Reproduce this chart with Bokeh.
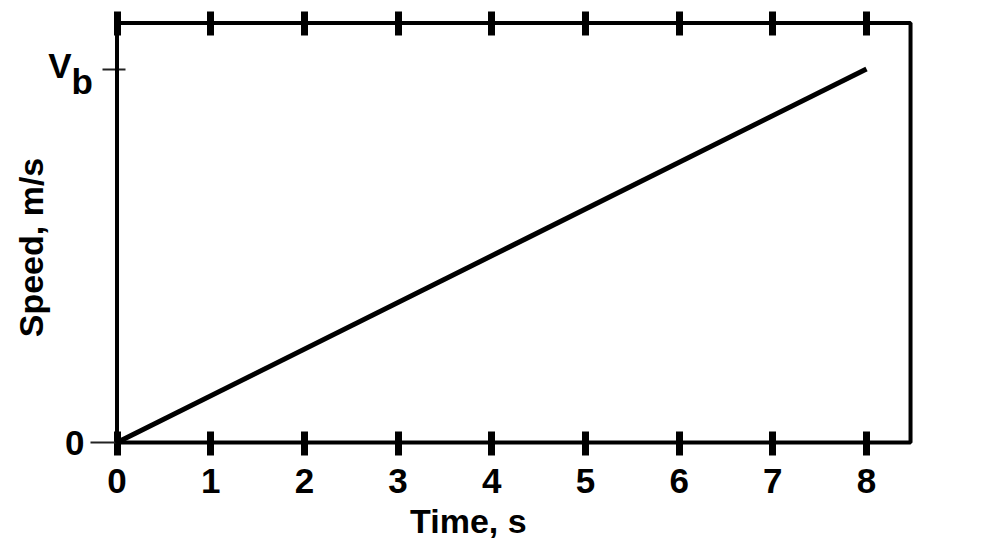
import math
from bokeh.plotting import figure
from bokeh.models import (LinearAxis, FixedTicker, Label, Range1d,
                          CustomLabelingPolicy, BoxAnnotation)
from bokeh.embed import file_html
from bokeh.resources import INLINE

# ---- data ----
time_s = [0, 8]
speed = [0, 1.0]          # speed normalised to V_b
x_ticks = [0, 1, 2, 3, 4, 5, 6, 7, 8]
x_tick_labels = ["0", "1", "2", "3", "4", "5", "6", "7", "8"]
y_ticks = [0, 1.0]
y_tick_labels = ["0", "V"]
y_tick_subscripts = ["", "b"]
x_max = 8.47              # right edge of the plot box (s)
y_max = 1.123             # top edge of the plot box (in V_b)
x_title = "Time, s"
y_title = "Speed, m/s"
x_title_pos = 3.75

# ---- layout (pixels) ----
W, H = 968, 540
PX_X0, PX_X8 = 116.5, 866.0     # pixel x of t=0 and t=8
PX_Y0, PX_Y1 = 442.0, 68.5      # pixel y of 0 and V_b
FONT = "Liberation Sans"

sx = (PX_X8 - PX_X0) / 8.0
sy = (PX_Y0 - PX_Y1) / 1.0
x_range = Range1d(-PX_X0 / sx, (W - PX_X0) / sx)
y_range = Range1d(-(H - PX_Y0) / sy, PX_Y0 / sy)

HIDE = CustomLabelingPolicy(code="""
for (let i = 0; i < indices.size; i++) { indices.unset(i) }
return indices
""")

p = figure(width=W, height=H, output_backend="svg", toolbar_location=None,
           x_range=x_range, y_range=y_range,
           x_axis_location=None, y_axis_location=None,
           min_border=0)
p.grid.visible = False
p.outline_line_color = None
p.background_fill_color = "white"
p.border_fill_color = "white"

# plot box
p.add_layout(BoxAnnotation(left=0, right=x_max, bottom=0, top=y_max,
                           fill_alpha=0, line_color="black", line_alpha=1.0,
                           line_width=4))

# bottom axis
xb = LinearAxis(ticker=FixedTicker(ticks=x_ticks), fixed_location=0,
                major_label_overrides={t: l for t, l in zip(x_ticks, x_tick_labels)})
xb.axis_line_color = None
xb.major_tick_line_width = 7
xb.major_tick_line_color = "black"
xb.major_tick_in = 11
xb.major_tick_out = 13
xb.minor_tick_line_color = None
xb.major_label_text_font = FONT
xb.major_label_text_font_style = "bold"
xb.major_label_text_font_size = "35px"
xb.major_label_text_color = "black"
xb.major_label_standoff = 13
p.add_layout(xb, "below")

# top axis (ticks only)
xt = LinearAxis(ticker=FixedTicker(ticks=x_ticks), fixed_location=y_max,
                major_label_policy=HIDE)
xt.axis_line_color = None
xt.major_tick_line_width = 7
xt.major_tick_line_color = "black"
xt.major_tick_in = 12
xt.major_tick_out = 12
xt.minor_tick_line_color = None
p.add_layout(xt, "above")

# left axis ticks (thin)
tick_out = {0: 27, 1: 15}
tick_in = {0: 0, 1: 8}
for i, yv in enumerate(y_ticks):
    ya = LinearAxis(ticker=FixedTicker(ticks=[yv]), fixed_location=0,
                    major_label_policy=HIDE)
    ya.axis_line_color = None
    ya.major_tick_line_width = 2
    ya.major_tick_line_color = "#222222"
    ya.major_tick_in = tick_in[i]
    ya.major_tick_out = tick_out[i]
    ya.minor_tick_line_color = None
    p.add_layout(ya, "left")

p.line(time_s, speed, line_width=5, line_color="black")

# y tick labels
for yv, lab, sub in zip(y_ticks, y_tick_labels, y_tick_subscripts):
    right = 84 if sub == "" else 71
    p.add_layout(Label(x=right, y=yv, x_units="screen", y_units="data", text=lab,
                       y_offset=(0 if sub == "" else 4),
                       text_align="right", text_baseline="middle",
                       text_font=FONT, text_font_style="bold", text_font_size="35px",
                       text_color="black"))
    if sub:
        p.add_layout(Label(x=right, y=yv, x_units="screen", y_units="data", text=sub,
                           y_offset=-12,
                           text_align="left", text_baseline="middle",
                           text_font=FONT, text_font_style="bold", text_font_size="35px",
                           text_color="black"))

# axis titles
p.add_layout(Label(x=x_title_pos, y=H - 520, x_units="data", y_units="screen", text=x_title,
                   text_align="center", text_baseline="middle",
                   text_font=FONT, text_font_style="bold", text_font_size="34px",
                   text_color="black"))
p.add_layout(Label(x=30, y=H - 247, x_units="screen", y_units="screen", text=y_title,
                   angle=math.pi / 2, text_align="center", text_baseline="middle",
                   text_font=FONT, text_font_style="bold", text_font_size="34px",
                   text_color="black"))

open("out.html", "w").write(file_html(p, INLINE))
